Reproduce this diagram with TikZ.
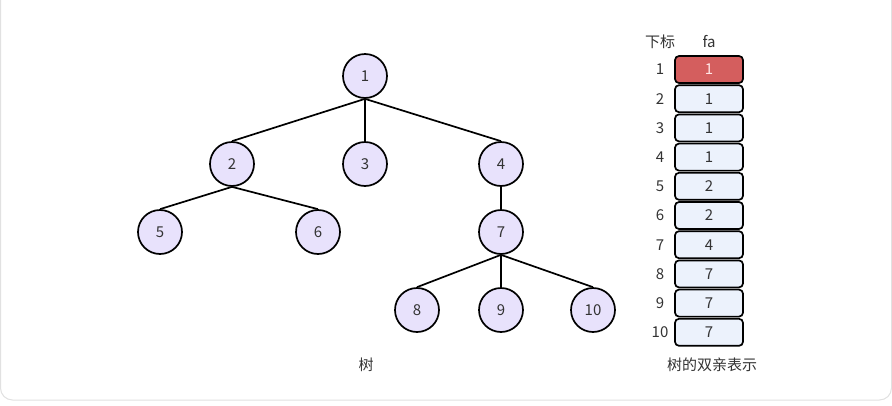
\documentclass[tikz,border=0pt]{standalone}
\usepackage{fontspec}
\setmainfont{Noto Sans CJK SC}
\definecolor{nodefill}{RGB}{232,226,252}
\definecolor{cellfill}{RGB}{236,242,252}
\definecolor{redfill}{RGB}{212,94,94}
\definecolor{txt}{RGB}{51,51,51}
\definecolor{frame}{RGB}{225,225,225}
\begin{document}
\begin{tikzpicture}[x=1pt,y=-1pt,
  tnode/.style={circle, draw=black, line width=1.7pt, fill=nodefill, minimum size=44pt, inner sep=0pt, font=\fontsize{15}{17}\selectfont, text=txt},
  edge/.style={line width=1.7pt, black},
  cell/.style={draw=black, rounded corners=4pt, line width=1.7pt, fill=cellfill, minimum width=68pt, minimum height=27pt, inner sep=0pt, font=\fontsize{15}{17}\selectfont, text=txt},
  redcell/.style={cell, fill=redfill, text=red!10},
  lbl/.style={font=\fontsize{15}{17}\selectfont, text=txt, inner sep=0pt}
]
\useasboundingbox (0,0) rectangle (892,405);
\begin{scope}
\clip (0,0) rectangle (892,405);
\draw[frame, line width=1pt, rounded corners=12pt] (0.5,-30) rectangle (891.5,400);
\end{scope}
% tree nodes
\node[tnode] (n1) at (365,76) {1};
\node[tnode] (n2) at (232,164) {2};
\node[tnode] (n3) at (365,164) {3};
\node[tnode] (n4) at (501,164) {4};
\node[tnode] (n5) at (160,232) {5};
\node[tnode] (n6) at (318,232) {6};
\node[tnode] (n7) at (501,232) {7};
\node[tnode] (n8) at (417,310) {8};
\node[tnode] (n9) at (501,310) {9};
\node[tnode] (n10) at (593,310) {10};
\draw[edge] (n1.south) -- (n2.north);
\draw[edge] (n1.south) -- (n3.north);
\draw[edge] (n1.south) -- (n4.north);
\draw[edge] (n2.south) -- (n5.north);
\draw[edge] (n2.south) -- (n6.north);
\draw[edge] (n4.south) -- (n7.north);
\draw[edge] (n7.south) -- (n8.north);
\draw[edge] (n7.south) -- (n9.north);
\draw[edge] (n7.south) -- (n10.north);
\node[lbl] (cap1) at (366,365) {树};
% table
\node[lbl] (hidx) at (660,42) {下标};
\node[lbl] (hfa) at (709,42) {fa};
\node[redcell] (c1) at (709,69.5) {1};
\node[cell] (c2) at (709,98.7) {1};
\node[cell] (c3) at (709,127.9) {1};
\node[cell] (c4) at (709,157.1) {1};
\node[cell] (c5) at (709,186.3) {2};
\node[cell] (c6) at (709,215.5) {2};
\node[cell] (c7) at (709,244.7) {4};
\node[cell] (c8) at (709,273.9) {7};
\node[cell] (c9) at (709,303.1) {7};
\node[cell] (c10) at (709,332.3) {7};
\node[lbl] (i1) at (660,69.5) {1};
\node[lbl] (i2) at (660,98.7) {2};
\node[lbl] (i3) at (660,127.9) {3};
\node[lbl] (i4) at (660,157.1) {4};
\node[lbl] (i5) at (660,186.3) {5};
\node[lbl] (i6) at (660,215.5) {6};
\node[lbl] (i7) at (660,244.7) {7};
\node[lbl] (i8) at (660,273.9) {8};
\node[lbl] (i9) at (660,303.1) {9};
\node[lbl] (i10) at (660,332.3) {10};
\node[lbl] (cap2) at (712,365) {树的双亲表示};
\end{tikzpicture}
\end{document}
